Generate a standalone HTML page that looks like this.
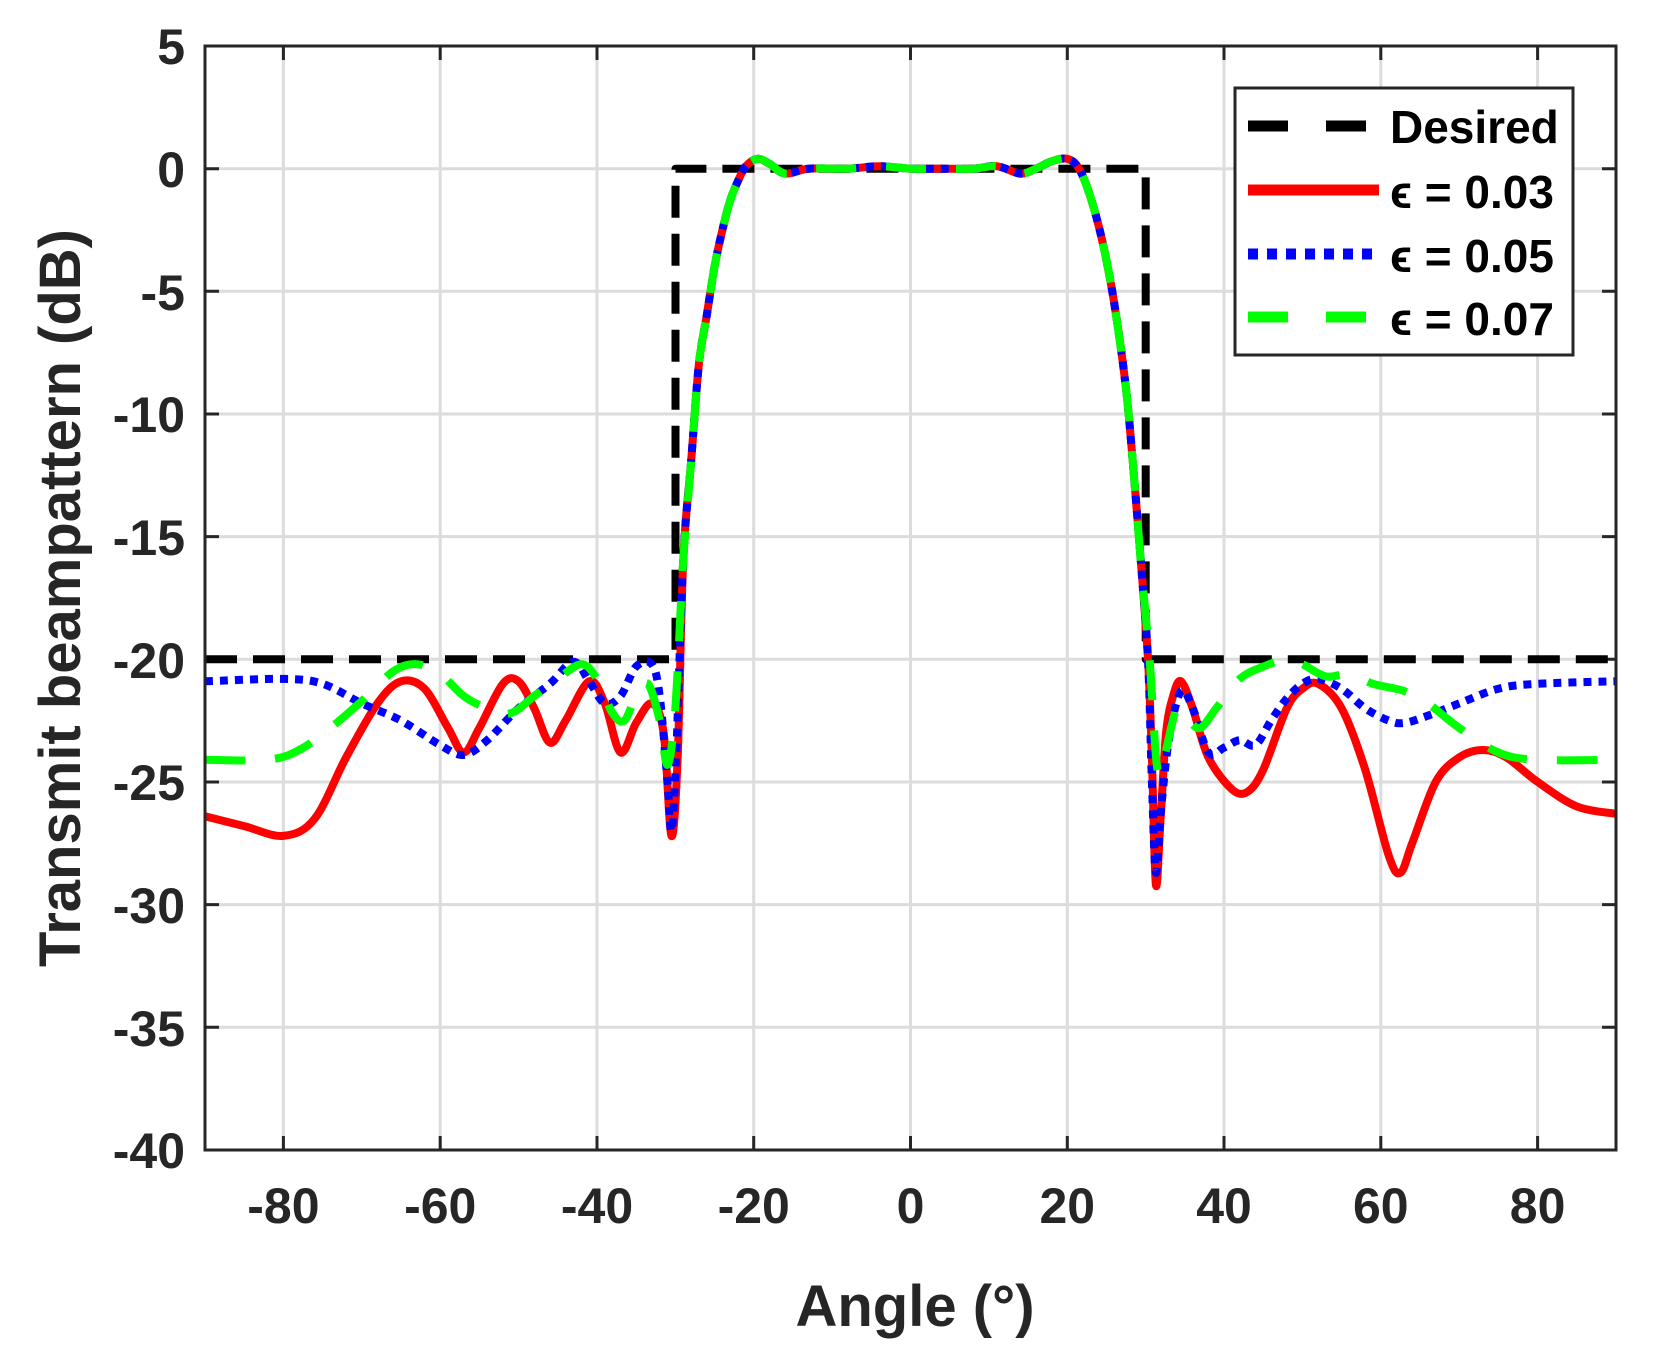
<!DOCTYPE html>
<html><head><meta charset="utf-8"><style>
html,body{margin:0;padding:0;background:#fff}
text{font-family:"Liberation Sans",sans-serif;font-weight:bold}
</style></head><body>
<svg width="1655" height="1343" viewBox="0 0 1655 1343" xmlns="http://www.w3.org/2000/svg">
<rect width="1655" height="1343" fill="#fff"/>
<g stroke="#dcdcdc" stroke-width="3">
<line x1="283.4" y1="46" x2="283.4" y2="1150"/><line x1="440.2" y1="46" x2="440.2" y2="1150"/><line x1="597" y1="46" x2="597" y2="1150"/><line x1="753.7" y1="46" x2="753.7" y2="1150"/><line x1="910.5" y1="46" x2="910.5" y2="1150"/><line x1="1067.3" y1="46" x2="1067.3" y2="1150"/><line x1="1224" y1="46" x2="1224" y2="1150"/><line x1="1380.8" y1="46" x2="1380.8" y2="1150"/><line x1="1537.6" y1="46" x2="1537.6" y2="1150"/>
<line x1="205" y1="168.7" x2="1616" y2="168.7"/><line x1="205" y1="291.3" x2="1616" y2="291.3"/><line x1="205" y1="414" x2="1616" y2="414"/><line x1="205" y1="536.6" x2="1616" y2="536.6"/><line x1="205" y1="659.3" x2="1616" y2="659.3"/><line x1="205" y1="782" x2="1616" y2="782"/><line x1="205" y1="904.6" x2="1616" y2="904.6"/><line x1="205" y1="1027.3" x2="1616" y2="1027.3"/>
</g>
<g stroke="#262626" stroke-width="3">
<path d="M283.4 1150v-14M440.2 1150v-14M597 1150v-14M753.7 1150v-14M910.5 1150v-14M1067.3 1150v-14M1224 1150v-14M1380.8 1150v-14M1537.6 1150v-14"/>
<path d="M283.4 46v14M440.2 46v14M597 46v14M753.7 46v14M910.5 46v14M1067.3 46v14M1224 46v14M1380.8 46v14M1537.6 46v14"/>
<path d="M205 168.7h14M205 291.3h14M205 414h14M205 536.6h14M205 659.3h14M205 782h14M205 904.6h14M205 1027.3h14"/>
<path d="M1616 168.7h-14M1616 291.3h-14M1616 414h-14M1616 536.6h-14M1616 659.3h-14M1616 782h-14M1616 904.6h-14M1616 1027.3h-14"/>
</g>
<g fill="none" stroke-linejoin="round">
<path id="pd" stroke="#000" stroke-width="8" stroke-dasharray="32 16" d="M205 659.3H675.5V168.7H1145.7V659.3H1616"/>
<path id="pr" stroke="#f00" stroke-width="8"/>
<path id="pb" stroke="#00f" stroke-width="8" stroke-dasharray="8 7"/>
<path id="pg" stroke="#0f0" stroke-width="8" stroke-dasharray="40 30"/>
</g>
<rect x="205" y="46" width="1411" height="1104" fill="none" stroke="#262626" stroke-width="3"/>
<rect x="1235" y="88" width="338" height="267" fill="#fff" stroke="#262626" stroke-width="3"/>
<line x1="1248" y1="126" x2="1379" y2="126" stroke="#000" stroke-width="11" stroke-dasharray="40 38"/>
<line x1="1248" y1="190" x2="1379" y2="190" stroke="#f00" stroke-width="11"/>
<line x1="1248" y1="254" x2="1379" y2="254" stroke="#00f" stroke-width="11" stroke-dasharray="10 9"/>
<line x1="1248" y1="317" x2="1379" y2="317" stroke="#0f0" stroke-width="11" stroke-dasharray="40 38"/>
<g font-size="46" fill="#000">
<text x="1390" y="143">Desired</text>
<text x="1390" y="208">ϵ = 0.03</text>
<text x="1390" y="272">ϵ = 0.05</text>
<text x="1390" y="335">ϵ = 0.07</text>
</g>
<g font-size="50" fill="#262626" text-anchor="end">
<text x="185" y="64">5</text><text x="185" y="187">0</text><text x="185" y="310">-5</text><text x="185" y="432">-10</text><text x="185" y="555">-15</text><text x="185" y="678">-20</text><text x="185" y="800">-25</text><text x="185" y="923">-30</text><text x="185" y="1046">-35</text><text x="185" y="1168">-40</text>
</g>
<g font-size="50" fill="#262626" text-anchor="middle">
<text x="283.4" y="1223">-80</text><text x="440.2" y="1223">-60</text><text x="597" y="1223">-40</text><text x="753.7" y="1223">-20</text><text x="910.5" y="1223">0</text><text x="1067.3" y="1223">20</text><text x="1224" y="1223">40</text><text x="1380.8" y="1223">60</text><text x="1537.6" y="1223">80</text>
<text x="915" y="1326" font-size="58">Angle (°)</text>
<text transform="translate(80,598) rotate(-90)" font-size="58">Transmit beampattern (dB)</text>
</g>
</svg>
<script>
var ML=[-29,-16,-28,-12,-27,-8,-26,-6,-25,-4,-24,-2.5,-23,-1.3,-22,-0.5,-21,0.1,-19.5,0.4,-18,0.2,-16,-0.2,-13,0,-8,0,-4,0.1,0,0,4,0,8,0,11,0.1,14,-0.2,16,0,18,0.3,20,0.4,21.5,0,23,-1.2,24.5,-3,26,-5.5,27.5,-9,28.5,-12.5,29.5,-16.5];
var R=[-90,-26.4,-85,-26.8,-80,-27.2,-76,-26.5,-72,-24,-68,-21.8,-65,-20.9,-62,-21.2,-59,-22.8,-57,-23.8,-55,-22.8,-52,-21,-50,-20.9,-48,-22,-46,-23.4,-44,-22.5,-41,-20.9,-39,-21.8,-37,-23.8,-35,-22.6,-33,-21.8,-31.5,-23,-30.5,-27.2,-29.7,-24].concat(ML,[30.3,-20,30.8,-24,31.3,-29.2,31.9,-26.5,32.6,-23,33.5,-21.5,34.5,-20.9,36,-22,38,-24,41,-25.3,43,-25.4,45,-24.5,48,-22,50,-21.2,52,-21,55,-22,58,-24.5,61,-28,62.5,-28.7,64,-27.5,67,-25,70,-24,73,-23.7,76,-24,80,-25,85,-26,90,-26.3]);
var B=[-90,-20.9,-80,-20.8,-75,-21,-70,-21.8,-65,-22.5,-60,-23.5,-57,-23.9,-54,-23.3,-50,-22,-46,-21,-43,-20.1,-41,-20.9,-39,-21.8,-37,-21.5,-35,-20.3,-33,-20.2,-32,-21.5,-31,-25,-30.5,-27,-29.9,-24].concat(ML,[30.3,-20,30.8,-25,31.3,-28.7,32,-26,33,-23.2,34.5,-21.3,36,-22,38,-23.8,40,-23.6,42,-23.3,44,-23.5,46,-22.5,48,-21.6,50,-21,52,-20.8,55,-21.2,58,-22,61,-22.5,63,-22.6,66,-22.3,70,-21.8,75,-21.2,80,-21,90,-20.9]);
var G=[-90,-24.1,-82,-24.1,-78,-23.7,-74,-22.8,-70,-21.7,-66,-20.5,-63,-20.2,-60,-20.6,-57,-21.5,-54,-22,-51,-22.2,-48,-21.5,-45,-20.8,-42,-20.2,-40,-20.8,-38,-22.2,-36.5,-22.5,-35,-21.5,-33.5,-21,-32,-22.5,-31,-24.3,-30,-22].concat(ML,[30.5,-20,31.5,-24.5,32.5,-23.8,34,-22,35.5,-22.5,37,-22.8,39,-22,42,-20.8,45,-20.3,48,-20,50,-20.2,53,-20.7,56,-20.6,59,-21,63,-21.3,66,-21.8,70,-22.8,75,-23.8,80,-24.1,90,-24.1]);
function px(a){return 910.5+7.839*a}function py(d){return 168.65-24.53*d}
function path(arr){var p=[];for(var i=0;i<arr.length;i+=2)p.push([px(arr[i]),py(arr[i+1])]);
var d="M"+p[0][0].toFixed(1)+" "+p[0][1].toFixed(1);
for(var i=0;i<p.length-1;i++){var p0=p[i-1]||p[i],p1=p[i],p2=p[i+1],p3=p[i+2]||p2;
var c1x=p1[0]+(p2[0]-p0[0])/6,c1y=p1[1]+(p2[1]-p0[1])/6,c2x=p2[0]-(p3[0]-p1[0])/6,c2y=p2[1]-(p3[1]-p1[1])/6;
c1x=Math.min(Math.max(c1x,p1[0]),p2[0]);c2x=Math.min(Math.max(c2x,p1[0]),p2[0]);
d+="C"+c1x.toFixed(1)+" "+c1y.toFixed(1)+" "+c2x.toFixed(1)+" "+c2y.toFixed(1)+" "+p2[0].toFixed(1)+" "+p2[1].toFixed(1);}
return d;}
document.getElementById("pr").setAttribute("d",path(R));
document.getElementById("pb").setAttribute("d",path(B));
document.getElementById("pg").setAttribute("d",path(G));
</script>
</body></html>
